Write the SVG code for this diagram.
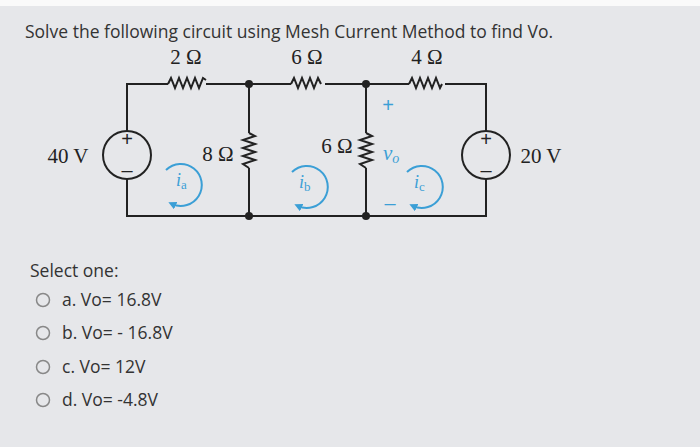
<svg xmlns="http://www.w3.org/2000/svg" width="700" height="447" viewBox="0 0 700 447">
<style>
.w{fill:none;stroke:#222;stroke-width:2}
.m{fill:none;stroke:#3b9fd6;stroke-width:2}
.s{font-family:"Liberation Serif",serif;font-size:21px;fill:#222}
.t{font-family:"Open Sans","Liberation Sans",sans-serif;font-size:17.5px;fill:#333}
.r{fill:none;stroke:#888;stroke-width:1.5}
.p{font-family:"Liberation Sans",sans-serif;font-size:20px;fill:#222}
</style>
<defs><marker id="a" viewBox="0 0 10 10" refX="5" refY="5" markerWidth="4" markerHeight="4" orient="auto"><path d="M0,0L10,5L0,10z" fill="#3b9fd6"/></marker></defs>
<rect width="700" height="447" fill="#e6e7ea"/>
<rect width="700" height="6" fill="#fafafa"/>
<text class="t" x="25" y="38">Solve the following circuit using Mesh Current Method to find Vo.</text>
<g id="connectors">
<path class="w" d="M127,131V84H168M206,84H291M325,84H409M445,84H486V131M486,179V216H127V179M249,84V133M249,168V216M366,84V133M366,168V216"/>
</g>
<g id="R2"><path class="w" d="M168,84l3-6 4,10 4-10 4,10 4-10 4,10 4-10 4,10 4-10 3,2"/><text class="s" x="186" y="64" text-anchor="middle">2 Ω</text></g>
<g id="R6a"><path class="w" d="M291,84l3-6 4,10 4-10 4,10 4-10 4,10 4-10 3,6"/><text class="s" x="307" y="64" text-anchor="middle">6 Ω</text></g>
<g id="R4"><path class="w" d="M409,84l3-6 4,10 4-10 4,10 4-10 4,10 4-10 4,10 2-4"/><text class="s" x="427" y="64" text-anchor="middle">4 Ω</text></g>
<g id="R8"><path class="w" d="M249,133l6,3-12,4 12,4-12,4 12,4-12,4 12,4-12,4 6,4"/><text class="s" x="218" y="161" text-anchor="middle">8 Ω</text></g>
<g id="R6b"><path class="w" d="M366,133l6,3-12,4 12,4-12,4 12,4-12,4 12,4-12,4 6,4"/><text class="s" x="337" y="153" text-anchor="middle">6 Ω</text>
<text x="383" y="160" font-family="Liberation Serif" font-size="21" font-style="italic" fill="#3b9fd6">v<tspan font-size="14" dy="3">o</tspan></text>
<text x="388" y="112" font-family="Liberation Sans" font-size="20" fill="#3b9fd6" text-anchor="middle">+</text>
<text x="390" y="210" font-family="Liberation Sans" font-size="20" fill="#3b9fd6" text-anchor="middle">–</text></g>
<g id="V40"><circle class="w" cx="127" cy="155" r="24" fill="#f2f3f5"/><text class="p" x="127" y="146" text-anchor="middle">+</text><text class="p" x="127" y="177" text-anchor="middle">–</text><text class="s" x="68" y="163" text-anchor="middle">40 V</text></g>
<g id="V20"><circle class="w" cx="486" cy="155" r="24" fill="#f2f3f5"/><text class="p" x="486" y="146" text-anchor="middle">+</text><text class="p" x="486" y="177" text-anchor="middle">–</text><text class="s" x="541" y="163" text-anchor="middle">20 V</text></g>
<g id="nodes"><circle cx="249" cy="84" r="4" fill="#222"/><circle cx="366" cy="84" r="4" fill="#222"/><circle cx="249" cy="216" r="4" fill="#222"/><circle cx="366" cy="216" r="4" fill="#222"/></g>
<g id="mesh">
<path class="m" marker-end="url(#a)" d="M166,170A21,21 0 1 1 172,204"/>
<path class="m" marker-end="url(#a)" d="M292,172A21,21 0 1 1 298,206"/>
<path class="m" marker-end="url(#a)" d="M407,172A21,21 0 1 1 413,206"/>
<text x="176" y="186" font-family="Liberation Serif" font-style="italic" font-size="18" fill="#3b9fd6">i<tspan font-style="normal" font-size="13" dy="3">a</tspan></text>
<text x="299" y="188" font-family="Liberation Serif" font-style="italic" font-size="18" fill="#3b9fd6">i<tspan font-style="normal" font-size="13" dy="3">b</tspan></text>
<text x="414" y="188" font-family="Liberation Serif" font-style="italic" font-size="18" fill="#3b9fd6">i<tspan font-style="normal" font-size="13" dy="3">c</tspan></text>
</g>
<text class="t" x="30" y="277">Select one:</text>
<circle class="r" cx="43" cy="300" r="6.5"/><text class="t" x="62" y="306">a. Vo= 16.8V</text>
<circle class="r" cx="43" cy="333" r="6.5"/><text class="t" x="62" y="339">b. Vo= - 16.8V</text>
<circle class="r" cx="43" cy="367" r="6.5"/><text class="t" x="62" y="373">c. Vo= 12V</text>
<circle class="r" cx="43" cy="400" r="6.5"/><text class="t" x="62" y="406">d. Vo= -4.8V</text>
</svg>
